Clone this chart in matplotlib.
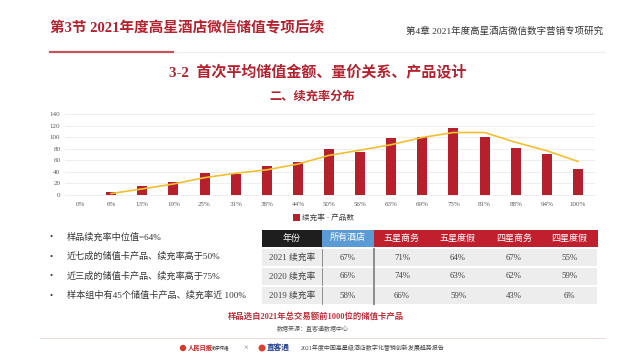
import numpy as np
import matplotlib
matplotlib.use("Agg")
import matplotlib.pyplot as plt
from matplotlib.patches import Rectangle, Circle

plt.rcParams['font.family'] = ['Liberation Serif', 'Noto Sans CJK SC']

# chart data
rate_labels = ['0%', '6%', '13%', '19%', '25%', '31%', '38%', '44%', '50%',
               '56%', '63%', '69%', '75%', '81%', '88%', '94%', '100%']
product_counts = [0, 5, 16, 22, 38, 37, 50, 57, 80, 75, 99, 100, 116, 100, 82, 71, 45]
# trend line (first point has none)
trend_values = [np.nan, 2.5, 10.5, 19, 30, 37.5, 43.5, 53.5, 68.5, 77.5,
                87, 99.5, 108, 108, 91, 76.5, 58]
y_ticks = [0, 20, 40, 60, 80, 100, 120, 140]

# table data
table_header = ['年份', '所有酒店', '五星商务', '五星度假', '四星商务', '四星度假']
table_years = ['2021 续充率', '2020 续充率', '2019 续充率']
all_hotels = ['67%', '66%', '58%']
five_business = ['71%', '74%', '66%']
five_resort = ['64%', '63%', '59%']
four_business = ['67%', '62%', '43%']
four_resort = ['55%', '59%', '6%']

bullets = ['样品续充率中位值=64%',
           '近七成的储值卡产品、续充率高于50%',
           '近三成的储值卡产品、续充率高于75%',
           '样本组中有45个储值卡产品、续充率近 100%']

RED = '#B5202C'
TITLE_RED = '#B3222E'
GOLD = '#F0C030'
BLUE = '#5B9BD5'

fig = plt.figure(figsize=(6.4, 3.6), dpi=100)

# page layer in pixel coordinates
bg = fig.add_axes([0, 0, 1, 1])
bg.set_xlim(0, 640)
bg.set_ylim(360, 0)
bg.axis('off')

# header
bg.text(50, 28, '第3节 2021年度高星酒店微信储值专项后续', fontsize=10.5,
        fontweight='bold', color=TITLE_RED, va='center', ha='left')
bg.text(603, 31, '第4章 2021年度高星酒店微信数字营销专项研究', fontsize=6.8,
        color='#333333', va='center', ha='right')
bg.plot([173, 605], [52, 52], color='#EEEEEE', lw=0.8)
bg.plot([50, 173], [52, 52], color='#C9535C', lw=1.6)

bg.text(318, 73, '3-2  首次平均储值金额、量价关系、产品设计', fontsize=10.8,
        fontweight='bold', color=TITLE_RED, va='center', ha='center')
bg.text(312, 97, '二、续充率分布', fontsize=8.8,
        fontweight='bold', color=TITLE_RED, va='center', ha='center')

# chart
ax = fig.add_axes([64.5 / 640, 165 / 360, 529 / 640, 81 / 360])
x = np.arange(len(rate_labels))
ax.bar(x, product_counts, width=0.32, color=RED, label='续充率 · 产品数', zorder=2)
ax.plot(x, trend_values, color=GOLD, lw=1.2, zorder=3, label='_nolegend_')
ax.set_xlim(-0.5, len(rate_labels) - 0.5)
ax.set_ylim(0, 140)
ax.set_yticks(y_ticks)
ax.set_xticks(x)
ax.set_xticklabels(rate_labels)
ax.tick_params(length=0, labelsize=5, colors='#595959')
ax.tick_params(axis='x', pad=5)
ax.tick_params(axis='y', pad=3)
ax.grid(axis='y', color='#EBEBEB', lw=0.6)
ax.set_axisbelow(True)
for s in ax.spines.values():
    s.set_visible(False)
for gl in ax.get_ygridlines():
    gl.set_clip_on(False)
ax.legend(loc='upper center', bbox_to_anchor=(0.49, -0.15), frameon=False,
          fontsize=5.5, handlelength=0.9, handleheight=0.9, handletextpad=0.3,
          labelcolor='#404040')

# bullet list
for i, t in enumerate(bullets):
    yy = 237 + i * 19.5
    bg.text(50, yy, '•', fontsize=6.5, color='#333333', va='center')
    bg.text(67, yy, t, fontsize=6.6, color='#333333', va='center')

# table
col_w = [60, 52, 56, 56, 56, 55]
col_x = np.concatenate([[262], 262 + np.cumsum(col_w)])
head_bg = ['#1E1E1E', BLUE, '#C0202E', '#C0202E', '#C0202E', '#C0202E']
head_top, head_h, row_h, gap = 230, 17, 17, 2
for j, name in enumerate(table_header):
    bg.add_patch(Rectangle((col_x[j], head_top), col_w[j] + 0.5, head_h,
                           color=head_bg[j], lw=0))
    bg.text(col_x[j] + col_w[j] / 2, head_top + head_h / 2, name,
            fontsize=6.5, color='white', ha='center', va='center')

columns = [table_years, all_hotels, five_business, five_resort,
           four_business, four_resort]
for i in range(len(table_years)):
    top = head_top + head_h + gap + i * (row_h + gap)
    bg.add_patch(Rectangle((col_x[0], top), col_x[-1] - col_x[0], row_h,
                           color='#EDEDED', lw=0))
    for j, col in enumerate(columns):
        bg.text(col_x[j] + col_w[j] / 2, top + row_h / 2, col[i],
                fontsize=6.3, color='#404040', ha='center', va='center')
    bg.plot([col_x[1], col_x[1]], [top, top + row_h], color='#7F7F7F', lw=0.6)
    bg.plot([col_x[2], col_x[2]], [top, top + row_h], color='#8C8C8C', lw=1.4)

# notes
bg.text(316, 316, '样品选自2021年总交易额前1000位的储值卡产品', fontsize=6,
        fontweight='bold', color='#C0303A', ha='center', va='center')
bg.text(313, 329, '数据来源：直客通数据中心', fontsize=4.3,
        color='#555555', ha='center', va='center')
bg.plot([40, 605], [338, 338], color='#E6D3D3', lw=0.6)

# footer
bg.add_patch(Circle((183, 348), 3.2, color='#D23A2A', lw=0))
bg.text(188, 348, '人民日报', fontsize=4.5, color='#C8201E', style='italic',
        fontweight='bold', ha='left', va='center')
bg.text(212, 348.5, '数字传播', fontsize=3.2, color='#333333', ha='left', va='center')
bg.text(246, 348, '×', fontsize=6, color='#777777', ha='center', va='center')
bg.add_patch(Circle((262, 348), 3.5, color='#E04030', lw=0))
bg.text(267, 348, '直客通', fontsize=5.5, color='#1E3A8A', style='italic',
        fontweight='bold', ha='left', va='center')
bg.text(301, 348, '2021年度中国高星级酒店数字化营销创新发展趋势报告', fontsize=4.3,
        color='#444444', ha='left', va='center')

fig.savefig('out.png', dpi=100)
